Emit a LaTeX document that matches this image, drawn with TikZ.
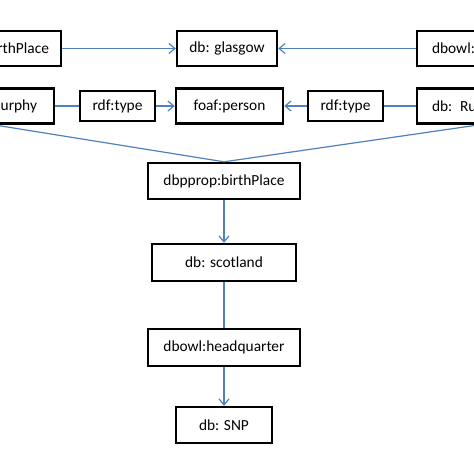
\documentclass[tikz,border=0pt]{standalone}
\usepackage{fontspec}
\setmainfont{Carlito}
\usetikzlibrary{arrows.meta}

\begin{document}
\begin{tikzpicture}[x=1pt,y=-1pt,>={Straight Barb[length=6pt,width=10pt]},
  box/.style={draw,line width=2.4pt,minimum height=35pt,inner ysep=0pt,
    font=\fontsize{15.4}{18}\selectfont},
  link/.style={draw={rgb,255:red,79;green,129;blue,189},line width=1.2pt}]

\useasboundingbox (0,0) rectangle (474,474);

% obere Reihe
\node (birth) at (0.5,48.5) [box,inner xsep=12pt,text width=97pt,align=right] {rthPlace};
\node (glasgow) at (227,48.5) [box,minimum width=100pt] {db: glasgow};
\node (owl) at (478.5,48.5) [box,inner xsep=15pt,text width=93pt,align=left] {dbowl:};

% zweite Reihe
\node (murphy) at (-7,106) [box,inner xsep=17pt,text width=88pt,align=right] {urphy};
\node (rdfa) at (117.5,106) [box,minimum width=75pt,minimum height=30pt] {rdf:type};
\node (foaf) at (229.5,106) [box,minimum width=107pt] {foaf:person};
\node (rdfb) at (345.5,106) [box,minimum width=75pt,minimum height=30pt] {rdf:type};
\node (ruth) at (480,106) [box,inner xsep=15pt,text width=96pt,align=left] {db: Ru};

% Spalte
\node (bplace) at (224,181) [box,minimum width=152pt,minimum height=36pt] {dbpprop:birthPlace};
\node (scot) at (224,262.5) [box,minimum width=144pt,minimum height=37pt] {db: scotland};
\node (hq) at (224,347.5) [box,minimum width=152pt,minimum height=37pt] {dbowl:headquarter};
\node (snp) at (224,425) [box,minimum width=96pt,minimum height=36pt] {db: SNP};

% Pfeile oben
\draw[link,->] (birth) -- (glasgow);
\draw[link,->] (owl) -- (glasgow);
\draw[link] (murphy) -- (rdfa);
\draw[link,->] (rdfa) -- (foaf);
\draw[link] (ruth) -- (rdfb);
\draw[link,->] (rdfb) -- (foaf);

% Schraege Linien
\draw[link] (murphy.south) -- (bplace.north);
\draw[link] (ruth.south) -- (bplace.north);

% Pfeile unten
\draw[link,->] (bplace) -- (scot);
\draw[link] (scot) -- (hq);
\draw[link,->] (hq) -- (snp);

\end{tikzpicture}
\end{document}
